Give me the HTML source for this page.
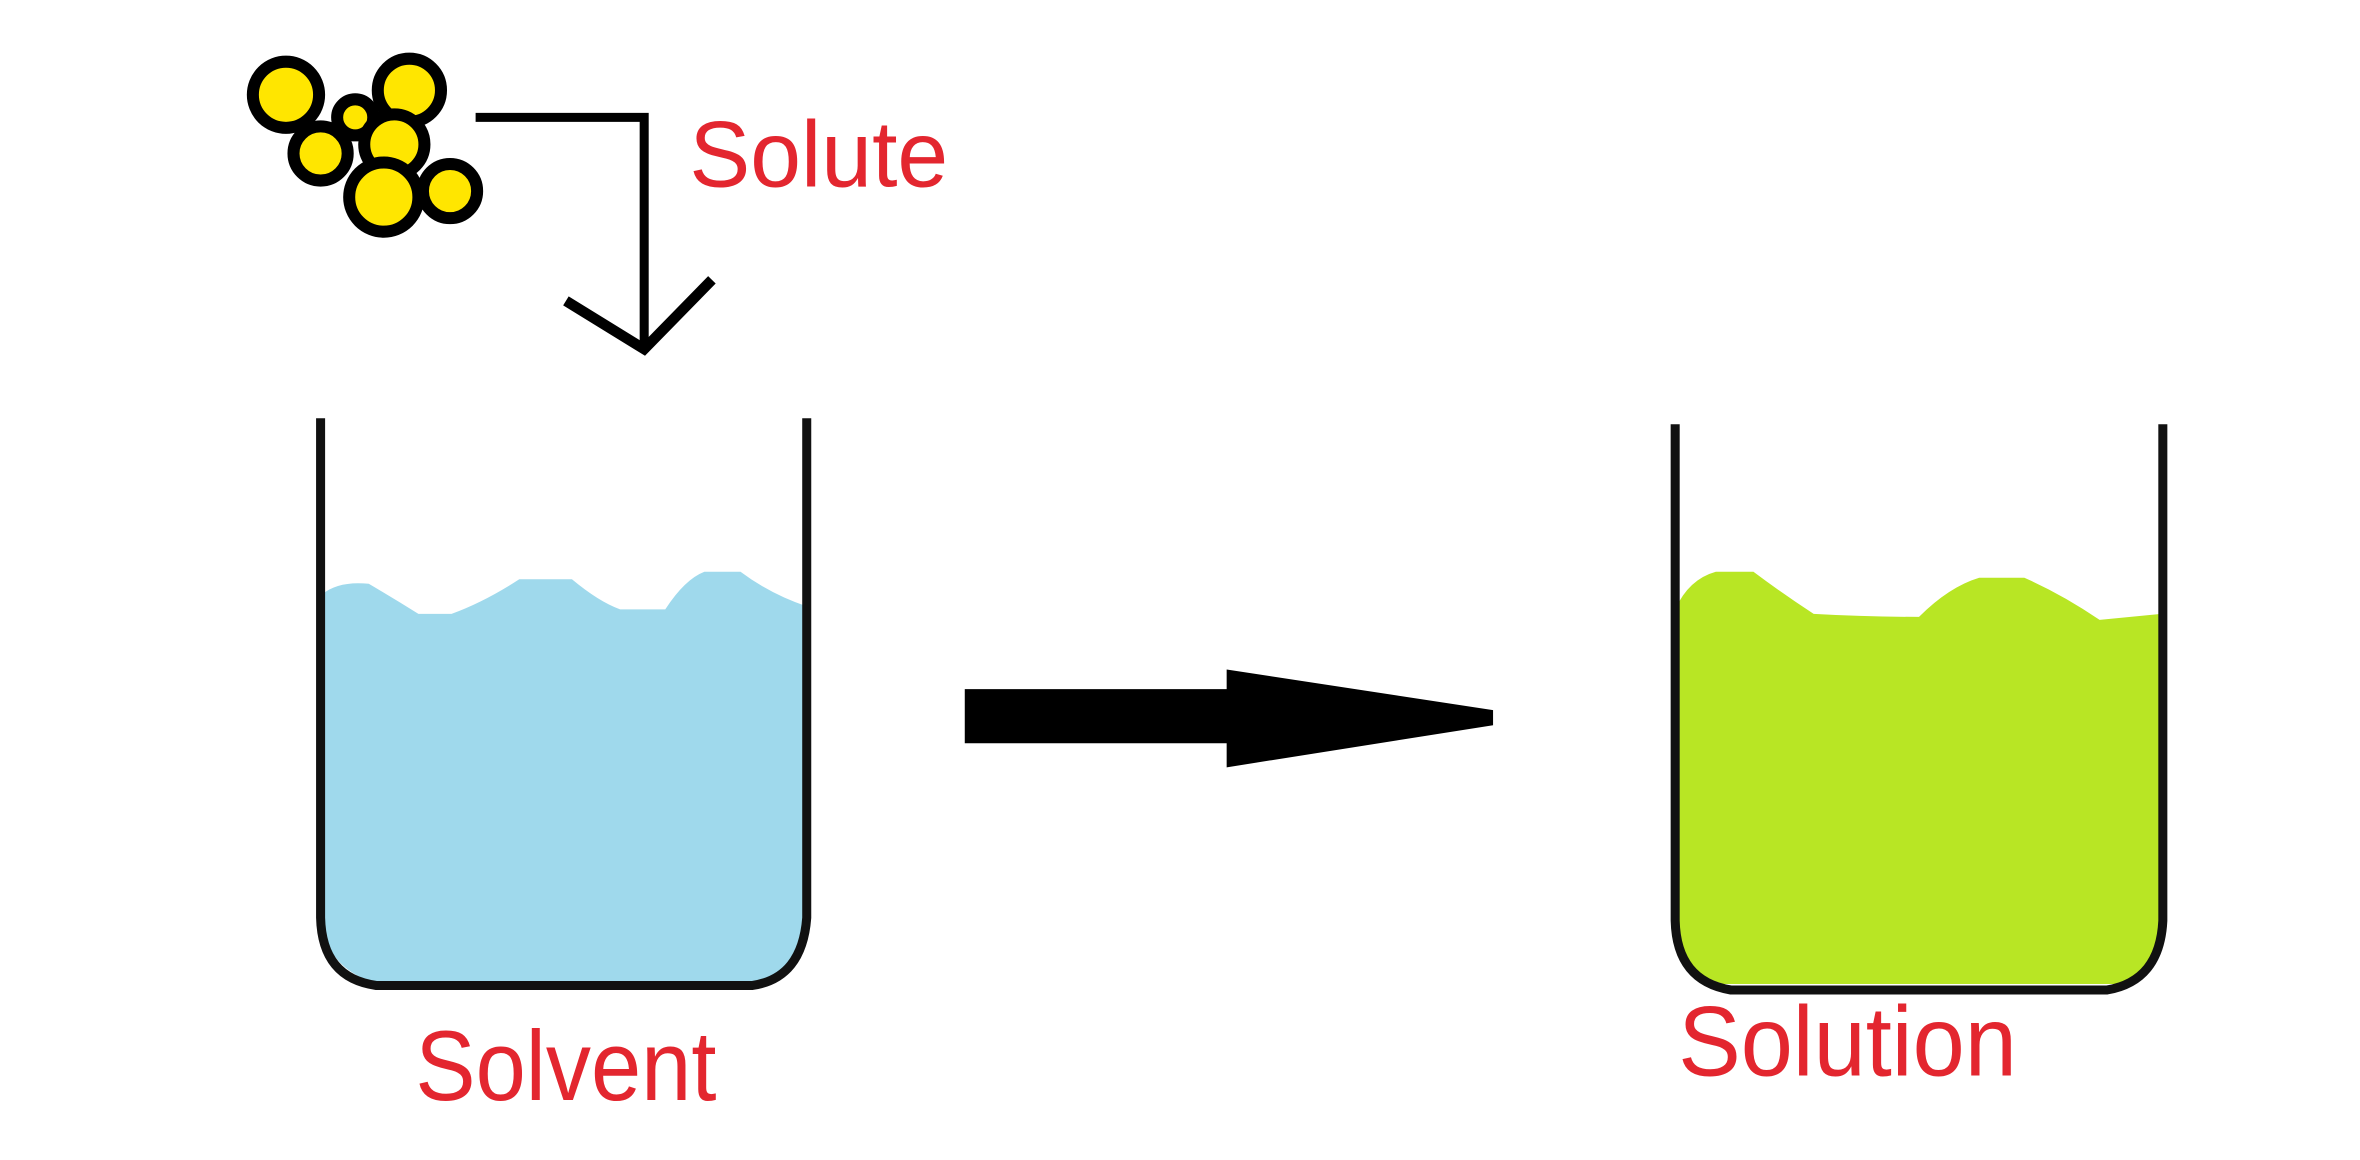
<!DOCTYPE html>
<html><head><style>html,body{margin:0;padding:0;background:#fff;}svg{display:block}</style></head>
<body>
<svg width="2360" height="1160" viewBox="0 0 1568 771" preserveAspectRatio="none" xmlns="http://www.w3.org/2000/svg">
<rect width="1568" height="771" fill="#fff"/>
<!-- solute particles -->
<g fill="#ffe600" stroke="#000" stroke-width="8">
<circle cx="236" cy="78" r="12"/>
<circle cx="190" cy="63" r="22"/>
<circle cx="272" cy="60" r="21"/>
<circle cx="213" cy="102" r="18"/>
<circle cx="262" cy="96" r="20"/>
<circle cx="299" cy="127" r="18"/>
<circle cx="255" cy="131" r="23"/>
</g>
<!-- solute arrow -->
<path d="M316 78 H428 V234" fill="none" stroke="#000" stroke-width="6"/>
<path d="M376 200 L428 232 L473 186" fill="none" stroke="#000" stroke-width="7"/>
<text x="458" y="124" font-family="Liberation Sans, sans-serif" font-size="62" fill="#e3262f" textLength="172" lengthAdjust="spacingAndGlyphs" transform="translate(0,0)">Solute</text>
<!-- left beaker -->
<path d="M214 395 Q225 386 245 388 Q262 398 278 408 L300 408 Q322 400 345 385 L380 385 Q398 400 412 405 L442 405 Q455 385 468 380 L492 380 Q512 395 536 403 L536 610 Q533 640 510 652 L245 652 Q215 640 214 610 Z" fill="#9fd9ec"/>
<path d="M213 278 V610 Q214 650 250 655 H500 Q533 650 536 610 V278" fill="none" stroke="#111" stroke-width="6"/>
<text x="276" y="731" font-family="Liberation Sans, sans-serif" font-size="66" fill="#e3262f" textLength="200" lengthAdjust="spacingAndGlyphs">Solvent</text>
<!-- arrow -->
<path d="M641 458 H815 V445 L992 472 V482 L815 510 V494 H641 Z" fill="#000"/>
<!-- right beaker -->
<path d="M1113 405 Q1122 385 1140 380 L1165 380 Q1185 395 1205 408 Q1240 410 1275 410 Q1295 390 1315 384 L1345 384 Q1370 395 1395 412 L1436 408 L1436 612 Q1434 645 1410 654 L1145 654 Q1114 645 1113 612 Z" fill="#b8e624"/>
<path d="M1113 282 V612 Q1114 652 1150 658 H1400 Q1435 652 1437 612 V282" fill="none" stroke="#111" stroke-width="6"/>
<text x="1115" y="715" font-family="Liberation Sans, sans-serif" font-size="66" fill="#e3262f" textLength="225" lengthAdjust="spacingAndGlyphs">Solution</text>
</svg>
</body></html>
